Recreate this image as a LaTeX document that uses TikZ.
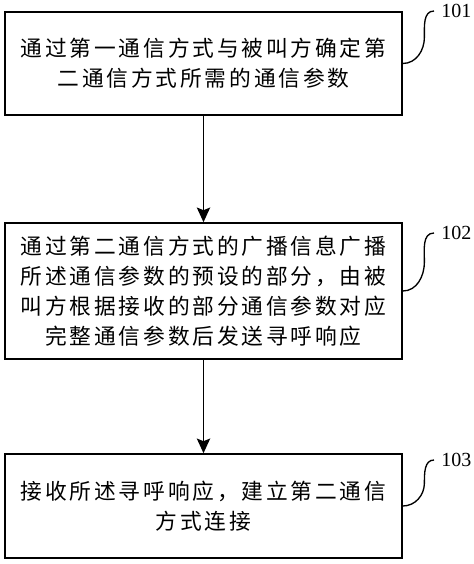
\documentclass[tikz,border=0pt]{standalone}
\usepackage{fontspec}
\setmainfont{Liberation Serif}
\newfontfamily\cjk[LetterSpace=13]{Noto Sans CJK SC}
\usetikzlibrary{arrows.meta,calc}
\tikzset{
	stepbox/.style={draw,line width=1.2pt,minimum width=397*0.75pt,align=center,inner sep=0pt,
		font=\cjk\fontsize{16.3}{22.5}\selectfont},
	flow/.style={line width=1.1pt,-{Stealth[length=11pt,width=10pt,inset=2pt]}},
	brace/.style={line width=1pt}
}
\begin{document}
\begin{tikzpicture}[x=0.75pt,y=-0.75pt]
	\useasboundingbox (0,0) rectangle (474,564);
	\node [stepbox,minimum height=103*0.75pt] at (203.5,63.5) (s1) {通过第一通信方式与被叫方确定第\\二通信方式所需的通信参数};
	\node [stepbox,minimum height=136*0.75pt] at (203.5,291) (s2) {通过第二通信方式的广播信息广播\\所述通信参数的预设的部分，由被\\叫方根据接收的部分通信参数对应\\完整通信参数后发送寻呼响应};
	\node [stepbox,minimum height=104*0.75pt] at (203.5,506) (s3) {接收所述寻呼响应，建立第二通信\\方式连接};
	\draw [flow] (s1) -- (s2);
	\draw [flow] (s2) -- (s3);
	\foreach \n/\y/\t in {s1/11/101, s2/233/102, s3/460/103}{
		\coordinate (t\n) at (434,\y);
		\draw [brace] (\n.east) to[out=0,in=-90] ($(\n.east)!0.5!(t\n)+(6,0)$) to[out=90,in=180] (t\n);
		\node [anchor=west,inner sep=0pt,font=\fontsize{15}{18}\selectfont] at (441,\y) (l\n) {\t};
	}
\end{tikzpicture}
\end{document}
